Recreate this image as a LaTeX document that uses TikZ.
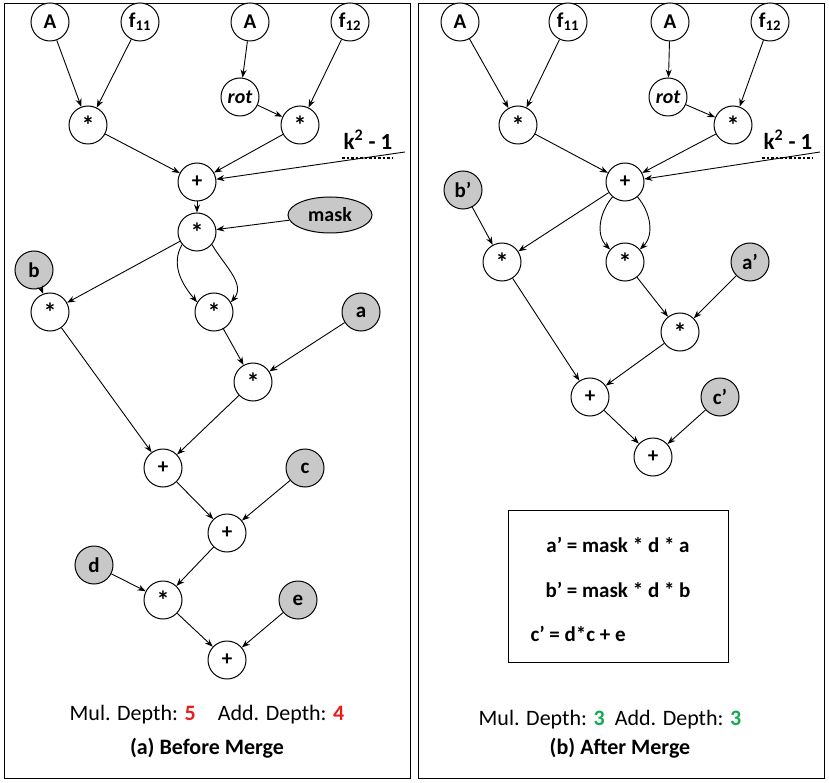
\documentclass[tikz,border=0pt]{standalone}
\usepackage{fontspec}
\setmainfont{Carlito}
\usetikzlibrary{shapes.geometric,arrows.meta}
\definecolor{gfill}{RGB}{200,200,200}
\definecolor{rd}{RGB}{230,30,30}
\definecolor{gr}{RGB}{20,170,80}
\newcommand{\st}{{\fontsize{26}{26}\selectfont\raisebox{-3pt}{*}}}
\begin{document}
\begin{tikzpicture}[x=1pt,y=-1pt,
 n/.style={circle,draw,line width=1pt,fill=white,minimum size=38pt,inner sep=0pt,font=\fontsize{21}{24}\selectfont\bfseries},
 g/.style={n,fill=gfill},
 ar/.style={-{Stealth[length=8pt,width=6pt]},line width=0.9pt},
 lbl/.style={font=\fontsize{22}{26}\selectfont}]
\useasboundingbox (0,0) rectangle (829,783);
\draw[line width=1pt] (4,4) rectangle (410,778);
\draw[line width=1pt] (418,4) rectangle (824,778);
% ---- left
\node[n] (A1) at (50,22) {A};
\node[n] (F1) at (140,22) {f$_{\mathbf{11}}$};
\node[n] (A2) at (250,22) {A};
\node[n] (F2) at (350,22) {f$_{\mathbf{12}}$};
\node[n,font=\fontsize{20}{22}\selectfont\bfseries\itshape] (R) at (240,97) {rot};
\node[n] (m1) at (88,125) {\st};
\node[n] (m2) at (300,125) {\st};
\node[font=\fontsize{23}{27}\selectfont\bfseries] (k) at (368,140) {k$^{\mathbf 2}$ - 1};
\draw[line width=2.5pt,dotted] (342,158) -- (392,158);
\coordinate (kk) at (405,152);
\node[n] (p1) at (197,182) {+};
\node[ellipse,draw,line width=1pt,fill=gfill,minimum width=84pt,minimum height=36pt,font=\fontsize{20}{22}\selectfont\bfseries] (mask) at (330,215) {mask};
\node[n] (m3) at (197,232) {\st};
\node[g] (b) at (34,270) {b};
\node[n] (m4) at (50,312) {\st};
\node[n] (m5) at (214,312) {\st};
\node[g] (a) at (361,312) {a};
\node[n] (m6) at (253,382) {\st};
\node[n] (p2) at (163,468) {+};
\node[g] (c) at (305,468) {c};
\node[n] (p3) at (227,533) {+};
\node[g] (d) at (94,565) {d};
\node[n] (m7) at (163,600) {\st};
\node[g] (e) at (298,600) {e};
\node[n] (p4) at (227,660) {+};
\draw[ar] (A1)--(m1); \draw[ar] (F1)--(m1);
\draw[ar] (A2)--(R); \draw[ar] (R)--(m2); \draw[ar] (F2)--(m2);
\draw[ar] (m1)--(p1); \draw[ar] (m2)--(p1); \draw[ar] (kk)--(p1);
\draw[ar] (p1)--(m3); \draw[ar] (mask)--(m3);
\draw[ar] (m3)--(m4); \draw[ar] (b)--(m4);
\draw[ar] (m3.220) to[out=240,in=130] (m5.150);
\draw[ar] (m3.320) to[out=300,in=50] (m5.30);
\draw[ar] (m5)--(m6); \draw[ar] (a)--(m6);
\draw[ar] (m4)--(p2); \draw[ar] (m6)--(p2);
\draw[ar] (p2)--(p3); \draw[ar] (c)--(p3);
\draw[ar] (p3)--(m7); \draw[ar] (d)--(m7);
\draw[ar] (m7)--(p4); \draw[ar] (e)--(p4);
\node[lbl] (t1) at (207,715) {Mul. Depth: {\bfseries\color{rd}5}\quad Add. Depth: {\bfseries\color{rd}4}};
\node[font=\fontsize{22}{26}\selectfont\bfseries] (t2) at (207,748) {(a) Before Merge};
% ---- right
\node[n] (B1) at (460,22) {A};
\node[n] (G1) at (568,22) {f$_{\mathbf{11}}$};
\node[n] (B2) at (670,22) {A};
\node[n] (G2) at (770,22) {f$_{\mathbf{12}}$};
\node[n,font=\fontsize{20}{22}\selectfont\bfseries\itshape] (R2) at (668,97) {rot};
\node[n] (q1) at (518,125) {\st};
\node[n] (q2) at (733,125) {\st};
\node[font=\fontsize{23}{27}\selectfont\bfseries] (k2) at (788,140) {k$^{\mathbf 2}$ - 1};
\draw[line width=2.5pt,dotted] (762,158) -- (812,158);
\coordinate (kk2) at (820,152);
\node[n] (s1) at (625,182) {+};
\node[g] (bp) at (463,190) {b’};
\node[n] (q3) at (502,262) {\st};
\node[n] (q4) at (625,262) {\st};
\node[g] (ap) at (750,262) {a’};
\node[n] (q5) at (680,332) {\st};
\node[n] (s2) at (590,397) {+};
\node[g] (cp) at (720,397) {c’};
\node[n] (s3) at (653,457) {+};
\draw[ar] (B1)--(q1); \draw[ar] (G1)--(q1);
\draw[ar] (B2)--(R2); \draw[ar] (R2)--(q2); \draw[ar] (G2)--(q2);
\draw[ar] (q1)--(s1); \draw[ar] (q2)--(s1); \draw[ar] (kk2)--(s1);
\draw[ar] (s1)--(q3); \draw[ar] (bp)--(q3);
\draw[ar] (s1.230) to[out=230,in=135] (q4.140);
\draw[ar] (s1.310) to[out=310,in=45] (q4.40);
\draw[ar] (q4)--(q5); \draw[ar] (ap)--(q5);
\draw[ar] (q3)--(s2); \draw[ar] (q5)--(s2);
\draw[ar] (s2)--(s3); \draw[ar] (cp)--(s3);
\draw[line width=1pt] (508,510) rectangle (728,662);
\node[font=\fontsize{21}{24}\selectfont\bfseries] (e1) at (618,545) {a’ = mask * d * a};
\node[font=\fontsize{21}{24}\selectfont\bfseries] (e2) at (618,590) {b’ = mask * d * b};
\node[font=\fontsize{21}{24}\selectfont\bfseries,anchor=west] (e3) at (527,634) {c’ = d*c + e};
\node[lbl] (t3) at (610,720) {Mul. Depth: {\bfseries\color{gr}3}\ \ Add. Depth: {\bfseries\color{gr}3}};
\node[font=\fontsize{22}{26}\selectfont\bfseries] (t4) at (620,748) {(b) After Merge};
\end{tikzpicture}
\end{document}
